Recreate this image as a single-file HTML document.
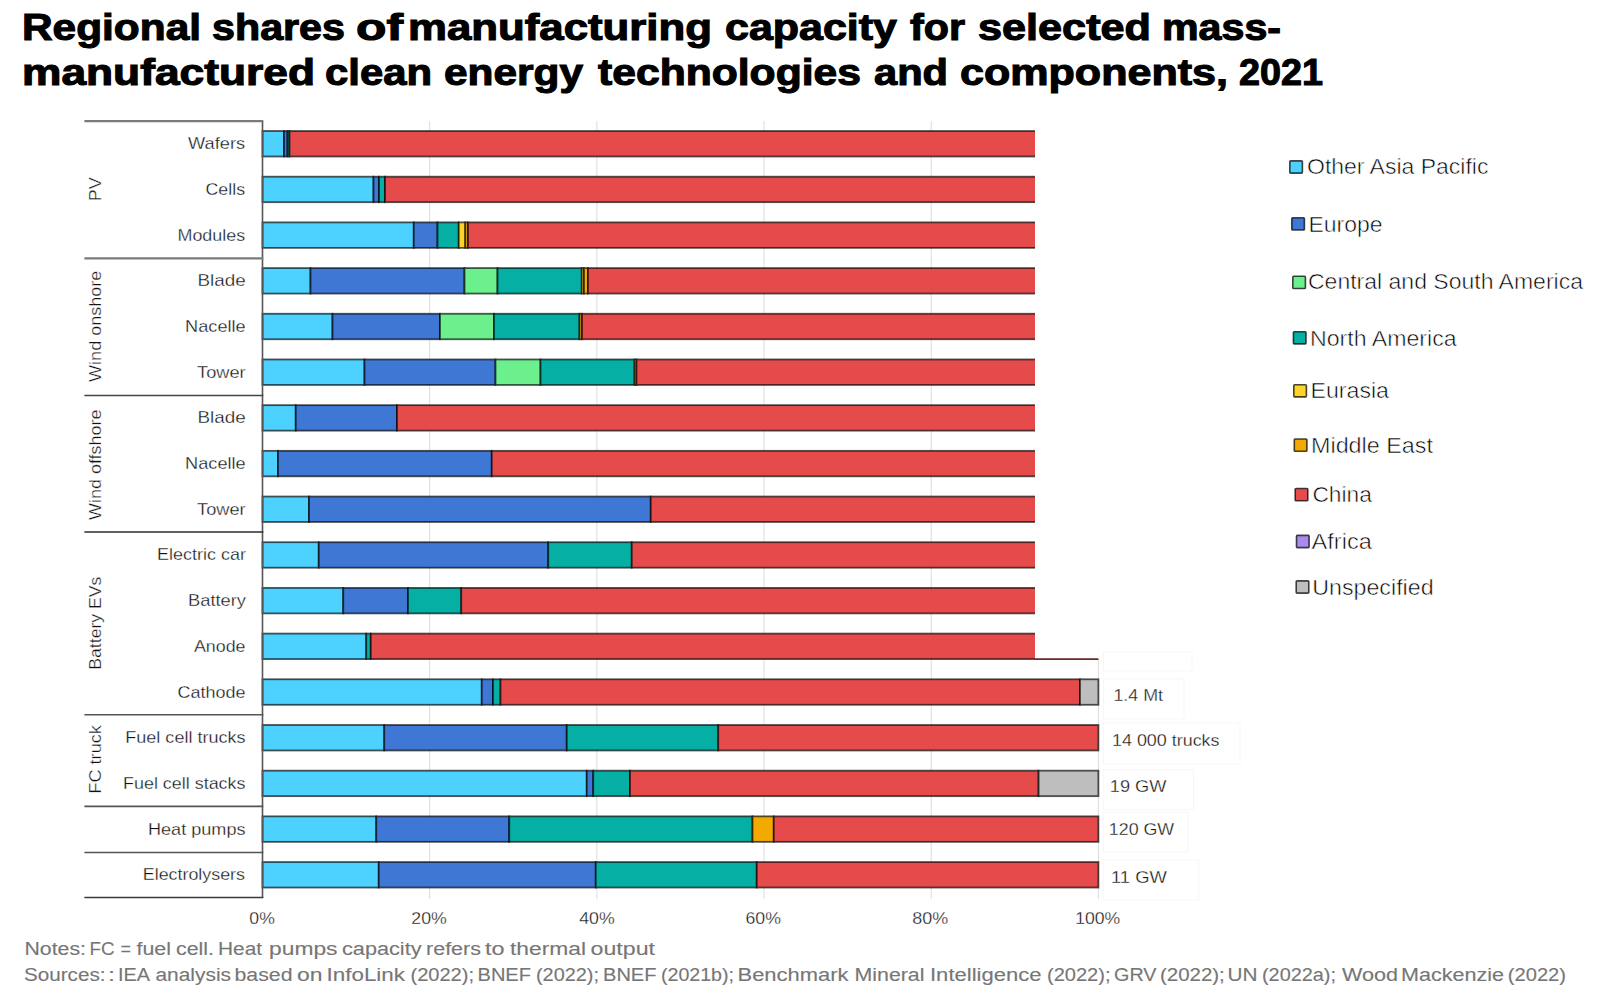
<!DOCTYPE html><html><head><meta charset="utf-8"><style>html,body{margin:0;padding:0;background:#fff;width:1600px;height:1000px;overflow:hidden}svg{display:block}text{font-family:"Liberation Sans",sans-serif}</style></head><body>
<svg width="1600" height="1000" viewBox="0 0 1600 1000">
<defs><clipPath id="cut"><rect x="0" y="0" width="1035.00" height="1000"/></clipPath></defs>
<text x="22.00" y="39.60" textLength="179.00" lengthAdjust="spacingAndGlyphs" font-size="37" font-weight="bold" fill="#000" stroke="#000" stroke-width="1.1">Regional</text>
<text x="212.00" y="39.60" textLength="133.00" lengthAdjust="spacingAndGlyphs" font-size="37" font-weight="bold" fill="#000" stroke="#000" stroke-width="1.1">shares</text>
<text x="356.00" y="39.60" textLength="47.00" lengthAdjust="spacingAndGlyphs" font-size="37" font-weight="bold" fill="#000" stroke="#000" stroke-width="1.1">of</text>
<text x="408.00" y="39.60" textLength="304.00" lengthAdjust="spacingAndGlyphs" font-size="37" font-weight="bold" fill="#000" stroke="#000" stroke-width="1.1">manufacturing</text>
<text x="725.00" y="39.60" textLength="172.00" lengthAdjust="spacingAndGlyphs" font-size="37" font-weight="bold" fill="#000" stroke="#000" stroke-width="1.1">capacity</text>
<text x="910.00" y="39.60" textLength="55.00" lengthAdjust="spacingAndGlyphs" font-size="37" font-weight="bold" fill="#000" stroke="#000" stroke-width="1.1">for</text>
<text x="978.00" y="39.60" textLength="173.00" lengthAdjust="spacingAndGlyphs" font-size="37" font-weight="bold" fill="#000" stroke="#000" stroke-width="1.1">selected</text>
<text x="1162.00" y="39.60" textLength="119.00" lengthAdjust="spacingAndGlyphs" font-size="37" font-weight="bold" fill="#000" stroke="#000" stroke-width="1.1">mass-</text>
<text x="22.00" y="84.90" textLength="293.00" lengthAdjust="spacingAndGlyphs" font-size="37" font-weight="bold" fill="#000" stroke="#000" stroke-width="1.1">manufactured</text>
<text x="325.00" y="84.90" textLength="107.00" lengthAdjust="spacingAndGlyphs" font-size="37" font-weight="bold" fill="#000" stroke="#000" stroke-width="1.1">clean</text>
<text x="444.00" y="84.90" textLength="139.00" lengthAdjust="spacingAndGlyphs" font-size="37" font-weight="bold" fill="#000" stroke="#000" stroke-width="1.1">energy</text>
<text x="598.00" y="84.90" textLength="263.00" lengthAdjust="spacingAndGlyphs" font-size="37" font-weight="bold" fill="#000" stroke="#000" stroke-width="1.1">technologies</text>
<text x="874.00" y="84.90" textLength="74.00" lengthAdjust="spacingAndGlyphs" font-size="37" font-weight="bold" fill="#000" stroke="#000" stroke-width="1.1">and</text>
<text x="960.00" y="84.90" textLength="268.00" lengthAdjust="spacingAndGlyphs" font-size="37" font-weight="bold" fill="#000" stroke="#000" stroke-width="1.1">components,</text>
<text x="1239.00" y="84.90" textLength="84.00" lengthAdjust="spacingAndGlyphs" font-size="37" font-weight="bold" fill="#000" stroke="#000" stroke-width="1.1">2021</text>
<line x1="429.68" y1="121" x2="429.68" y2="899" stroke="#dcdcdc" stroke-width="1"/>
<line x1="596.86" y1="121" x2="596.86" y2="899" stroke="#dcdcdc" stroke-width="1"/>
<line x1="764.04" y1="121" x2="764.04" y2="899" stroke="#dcdcdc" stroke-width="1"/>
<line x1="931.22" y1="121" x2="931.22" y2="899" stroke="#dcdcdc" stroke-width="1"/>
<line x1="1098.40" y1="659" x2="1098.40" y2="899" stroke="#dcdcdc" stroke-width="1"/>
<g clip-path="url(#cut)"><rect x="262.50" y="131.00" width="21.50" height="25.50" fill="#4DD2FF" stroke="rgba(0,0,0,0.66)" stroke-width="1.80"/><rect x="284.00" y="131.00" width="3.50" height="25.50" fill="#3E77D4" stroke="rgba(0,0,0,0.66)" stroke-width="1.80"/><rect x="287.50" y="131.00" width="2.00" height="25.50" fill="#05AFA3" stroke="rgba(0,0,0,0.66)" stroke-width="1.80"/><rect x="289.50" y="131.00" width="755.50" height="25.50" fill="#E54B4B" stroke="rgba(0,0,0,0.66)" stroke-width="1.80"/></g>
<text x="245.10" y="149.25" textLength="57.00" lengthAdjust="spacingAndGlyphs" text-anchor="end" font-size="17" fill="#111" stroke="#fff" stroke-width="0.3">Wafers</text>
<g clip-path="url(#cut)"><rect x="262.50" y="176.69" width="111.00" height="25.50" fill="#4DD2FF" stroke="rgba(0,0,0,0.66)" stroke-width="1.80"/><rect x="373.50" y="176.69" width="5.50" height="25.50" fill="#3E77D4" stroke="rgba(0,0,0,0.66)" stroke-width="1.80"/><rect x="379.00" y="176.69" width="6.00" height="25.50" fill="#05AFA3" stroke="rgba(0,0,0,0.66)" stroke-width="1.80"/><rect x="385.00" y="176.69" width="660.00" height="25.50" fill="#E54B4B" stroke="rgba(0,0,0,0.66)" stroke-width="1.80"/></g>
<text x="245.10" y="194.94" textLength="39.60" lengthAdjust="spacingAndGlyphs" text-anchor="end" font-size="17" fill="#111" stroke="#fff" stroke-width="0.3">Cells</text>
<g clip-path="url(#cut)"><rect x="262.50" y="222.38" width="151.25" height="25.50" fill="#4DD2FF" stroke="rgba(0,0,0,0.66)" stroke-width="1.80"/><rect x="413.75" y="222.38" width="23.75" height="25.50" fill="#3E77D4" stroke="rgba(0,0,0,0.66)" stroke-width="1.80"/><rect x="437.50" y="222.38" width="21.25" height="25.50" fill="#05AFA3" stroke="rgba(0,0,0,0.66)" stroke-width="1.80"/><rect x="458.75" y="222.38" width="6.55" height="25.50" fill="#FFD42A" stroke="rgba(0,0,0,0.66)" stroke-width="1.80"/><rect x="465.30" y="222.38" width="2.70" height="25.50" fill="#F2A900" stroke="rgba(0,0,0,0.66)" stroke-width="1.80"/><rect x="468.00" y="222.38" width="577.00" height="25.50" fill="#E54B4B" stroke="rgba(0,0,0,0.66)" stroke-width="1.80"/></g>
<text x="245.10" y="240.63" textLength="67.60" lengthAdjust="spacingAndGlyphs" text-anchor="end" font-size="17" fill="#111" stroke="#fff" stroke-width="0.3">Modules</text>
<g clip-path="url(#cut)"><rect x="262.50" y="268.07" width="48.00" height="25.50" fill="#4DD2FF" stroke="rgba(0,0,0,0.66)" stroke-width="1.80"/><rect x="310.50" y="268.07" width="154.00" height="25.50" fill="#3E77D4" stroke="rgba(0,0,0,0.66)" stroke-width="1.80"/><rect x="464.50" y="268.07" width="33.00" height="25.50" fill="#6CF08E" stroke="rgba(0,0,0,0.66)" stroke-width="1.80"/><rect x="497.50" y="268.07" width="84.25" height="25.50" fill="#05AFA3" stroke="rgba(0,0,0,0.66)" stroke-width="1.80"/><rect x="581.75" y="268.07" width="2.25" height="25.50" fill="#FFD42A" stroke="rgba(0,0,0,0.66)" stroke-width="1.80"/><rect x="584.00" y="268.07" width="4.00" height="25.50" fill="#F2A900" stroke="rgba(0,0,0,0.66)" stroke-width="1.80"/><rect x="588.00" y="268.07" width="457.00" height="25.50" fill="#E54B4B" stroke="rgba(0,0,0,0.66)" stroke-width="1.80"/></g>
<text x="245.70" y="286.32" textLength="48.20" lengthAdjust="spacingAndGlyphs" text-anchor="end" font-size="17" fill="#111" stroke="#fff" stroke-width="0.3">Blade</text>
<g clip-path="url(#cut)"><rect x="262.50" y="313.76" width="70.00" height="25.50" fill="#4DD2FF" stroke="rgba(0,0,0,0.66)" stroke-width="1.80"/><rect x="332.50" y="313.76" width="107.50" height="25.50" fill="#3E77D4" stroke="rgba(0,0,0,0.66)" stroke-width="1.80"/><rect x="440.00" y="313.76" width="54.00" height="25.50" fill="#6CF08E" stroke="rgba(0,0,0,0.66)" stroke-width="1.80"/><rect x="494.00" y="313.76" width="85.50" height="25.50" fill="#05AFA3" stroke="rgba(0,0,0,0.66)" stroke-width="1.80"/><rect x="579.50" y="313.76" width="2.50" height="25.50" fill="#F2A900" stroke="rgba(0,0,0,0.66)" stroke-width="1.80"/><rect x="582.00" y="313.76" width="463.00" height="25.50" fill="#E54B4B" stroke="rgba(0,0,0,0.66)" stroke-width="1.80"/></g>
<text x="245.70" y="332.01" textLength="60.60" lengthAdjust="spacingAndGlyphs" text-anchor="end" font-size="17" fill="#111" stroke="#fff" stroke-width="0.3">Nacelle</text>
<g clip-path="url(#cut)"><rect x="262.50" y="359.45" width="102.00" height="25.50" fill="#4DD2FF" stroke="rgba(0,0,0,0.66)" stroke-width="1.80"/><rect x="364.50" y="359.45" width="131.00" height="25.50" fill="#3E77D4" stroke="rgba(0,0,0,0.66)" stroke-width="1.80"/><rect x="495.50" y="359.45" width="45.00" height="25.50" fill="#6CF08E" stroke="rgba(0,0,0,0.66)" stroke-width="1.80"/><rect x="540.50" y="359.45" width="94.00" height="25.50" fill="#05AFA3" stroke="rgba(0,0,0,0.66)" stroke-width="1.80"/><rect x="634.50" y="359.45" width="2.00" height="25.50" fill="#F2A900" stroke="rgba(0,0,0,0.66)" stroke-width="1.80"/><rect x="636.50" y="359.45" width="408.50" height="25.50" fill="#E54B4B" stroke="rgba(0,0,0,0.66)" stroke-width="1.80"/></g>
<text x="245.70" y="377.70" textLength="48.60" lengthAdjust="spacingAndGlyphs" text-anchor="end" font-size="17" fill="#111" stroke="#fff" stroke-width="0.3">Tower</text>
<g clip-path="url(#cut)"><rect x="262.50" y="405.14" width="33.25" height="25.50" fill="#4DD2FF" stroke="rgba(0,0,0,0.66)" stroke-width="1.80"/><rect x="295.75" y="405.14" width="101.25" height="25.50" fill="#3E77D4" stroke="rgba(0,0,0,0.66)" stroke-width="1.80"/><rect x="397.00" y="405.14" width="648.00" height="25.50" fill="#E54B4B" stroke="rgba(0,0,0,0.66)" stroke-width="1.80"/></g>
<text x="245.70" y="423.39" textLength="48.20" lengthAdjust="spacingAndGlyphs" text-anchor="end" font-size="17" fill="#111" stroke="#fff" stroke-width="0.3">Blade</text>
<g clip-path="url(#cut)"><rect x="262.50" y="450.83" width="15.50" height="25.50" fill="#4DD2FF" stroke="rgba(0,0,0,0.66)" stroke-width="1.80"/><rect x="278.00" y="450.83" width="213.75" height="25.50" fill="#3E77D4" stroke="rgba(0,0,0,0.66)" stroke-width="1.80"/><rect x="491.75" y="450.83" width="553.25" height="25.50" fill="#E54B4B" stroke="rgba(0,0,0,0.66)" stroke-width="1.80"/></g>
<text x="245.70" y="469.08" textLength="60.60" lengthAdjust="spacingAndGlyphs" text-anchor="end" font-size="17" fill="#111" stroke="#fff" stroke-width="0.3">Nacelle</text>
<g clip-path="url(#cut)"><rect x="262.50" y="496.52" width="46.50" height="25.50" fill="#4DD2FF" stroke="rgba(0,0,0,0.66)" stroke-width="1.80"/><rect x="309.00" y="496.52" width="341.75" height="25.50" fill="#3E77D4" stroke="rgba(0,0,0,0.66)" stroke-width="1.80"/><rect x="650.75" y="496.52" width="394.25" height="25.50" fill="#E54B4B" stroke="rgba(0,0,0,0.66)" stroke-width="1.80"/></g>
<text x="245.70" y="514.77" textLength="48.60" lengthAdjust="spacingAndGlyphs" text-anchor="end" font-size="17" fill="#111" stroke="#fff" stroke-width="0.3">Tower</text>
<g clip-path="url(#cut)"><rect x="262.50" y="542.21" width="56.25" height="25.50" fill="#4DD2FF" stroke="rgba(0,0,0,0.66)" stroke-width="1.80"/><rect x="318.75" y="542.21" width="229.50" height="25.50" fill="#3E77D4" stroke="rgba(0,0,0,0.66)" stroke-width="1.80"/><rect x="548.25" y="542.21" width="83.50" height="25.50" fill="#05AFA3" stroke="rgba(0,0,0,0.66)" stroke-width="1.80"/><rect x="631.75" y="542.21" width="413.25" height="25.50" fill="#E54B4B" stroke="rgba(0,0,0,0.66)" stroke-width="1.80"/></g>
<text x="245.90" y="560.46" textLength="88.90" lengthAdjust="spacingAndGlyphs" text-anchor="end" font-size="17" fill="#111" stroke="#fff" stroke-width="0.3">Electric car</text>
<g clip-path="url(#cut)"><rect x="262.50" y="587.90" width="80.75" height="25.50" fill="#4DD2FF" stroke="rgba(0,0,0,0.66)" stroke-width="1.80"/><rect x="343.25" y="587.90" width="64.75" height="25.50" fill="#3E77D4" stroke="rgba(0,0,0,0.66)" stroke-width="1.80"/><rect x="408.00" y="587.90" width="53.25" height="25.50" fill="#05AFA3" stroke="rgba(0,0,0,0.66)" stroke-width="1.80"/><rect x="461.25" y="587.90" width="583.75" height="25.50" fill="#E54B4B" stroke="rgba(0,0,0,0.66)" stroke-width="1.80"/></g>
<text x="246.00" y="606.15" textLength="58.00" lengthAdjust="spacingAndGlyphs" text-anchor="end" font-size="17" fill="#111" stroke="#fff" stroke-width="0.3">Battery</text>
<g clip-path="url(#cut)"><rect x="262.50" y="633.59" width="103.75" height="25.50" fill="#4DD2FF" stroke="rgba(0,0,0,0.66)" stroke-width="1.80"/><rect x="366.25" y="633.59" width="4.50" height="25.50" fill="#05AFA3" stroke="rgba(0,0,0,0.66)" stroke-width="1.80"/><rect x="370.75" y="633.59" width="674.25" height="25.50" fill="#E54B4B" stroke="rgba(0,0,0,0.66)" stroke-width="1.80"/></g>
<text x="245.50" y="651.84" textLength="51.60" lengthAdjust="spacingAndGlyphs" text-anchor="end" font-size="17" fill="#111" stroke="#fff" stroke-width="0.3">Anode</text>
<rect x="262.50" y="679.28" width="219.25" height="25.50" fill="#4DD2FF" stroke="rgba(0,0,0,0.66)" stroke-width="1.80"/><rect x="481.75" y="679.28" width="11.25" height="25.50" fill="#3E77D4" stroke="rgba(0,0,0,0.66)" stroke-width="1.80"/><rect x="493.00" y="679.28" width="7.50" height="25.50" fill="#05AFA3" stroke="rgba(0,0,0,0.66)" stroke-width="1.80"/><rect x="500.50" y="679.28" width="579.50" height="25.50" fill="#E54B4B" stroke="rgba(0,0,0,0.66)" stroke-width="1.80"/><rect x="1080.00" y="679.28" width="18.40" height="25.50" fill="#BEBEBE" stroke="rgba(0,0,0,0.66)" stroke-width="1.80"/>
<text x="245.50" y="697.53" textLength="68.00" lengthAdjust="spacingAndGlyphs" text-anchor="end" font-size="17" fill="#111" stroke="#fff" stroke-width="0.3">Cathode</text>
<rect x="262.50" y="724.97" width="121.75" height="25.50" fill="#4DD2FF" stroke="rgba(0,0,0,0.66)" stroke-width="1.80"/><rect x="384.25" y="724.97" width="182.50" height="25.50" fill="#3E77D4" stroke="rgba(0,0,0,0.66)" stroke-width="1.80"/><rect x="566.75" y="724.97" width="151.50" height="25.50" fill="#05AFA3" stroke="rgba(0,0,0,0.66)" stroke-width="1.80"/><rect x="718.25" y="724.97" width="380.15" height="25.50" fill="#E54B4B" stroke="rgba(0,0,0,0.66)" stroke-width="1.80"/>
<text x="245.50" y="743.22" textLength="120.20" lengthAdjust="spacingAndGlyphs" text-anchor="end" font-size="17" fill="#111" stroke="#fff" stroke-width="0.3">Fuel cell trucks</text>
<rect x="262.50" y="770.66" width="324.25" height="25.50" fill="#4DD2FF" stroke="rgba(0,0,0,0.66)" stroke-width="1.80"/><rect x="586.75" y="770.66" width="6.50" height="25.50" fill="#3E77D4" stroke="rgba(0,0,0,0.66)" stroke-width="1.80"/><rect x="593.25" y="770.66" width="36.75" height="25.50" fill="#05AFA3" stroke="rgba(0,0,0,0.66)" stroke-width="1.80"/><rect x="630.00" y="770.66" width="408.60" height="25.50" fill="#E54B4B" stroke="rgba(0,0,0,0.66)" stroke-width="1.80"/><rect x="1038.60" y="770.66" width="59.80" height="25.50" fill="#BEBEBE" stroke="rgba(0,0,0,0.66)" stroke-width="1.80"/>
<text x="245.50" y="788.91" textLength="122.50" lengthAdjust="spacingAndGlyphs" text-anchor="end" font-size="17" fill="#111" stroke="#fff" stroke-width="0.3">Fuel cell stacks</text>
<rect x="262.50" y="816.35" width="113.75" height="25.50" fill="#4DD2FF" stroke="rgba(0,0,0,0.66)" stroke-width="1.80"/><rect x="376.25" y="816.35" width="133.00" height="25.50" fill="#3E77D4" stroke="rgba(0,0,0,0.66)" stroke-width="1.80"/><rect x="509.25" y="816.35" width="243.25" height="25.50" fill="#05AFA3" stroke="rgba(0,0,0,0.66)" stroke-width="1.80"/><rect x="752.50" y="816.35" width="21.25" height="25.50" fill="#F2A900" stroke="rgba(0,0,0,0.66)" stroke-width="1.80"/><rect x="773.75" y="816.35" width="324.65" height="25.50" fill="#E54B4B" stroke="rgba(0,0,0,0.66)" stroke-width="1.80"/>
<text x="245.50" y="834.60" textLength="97.50" lengthAdjust="spacingAndGlyphs" text-anchor="end" font-size="17" fill="#111" stroke="#fff" stroke-width="0.3">Heat pumps</text>
<rect x="262.50" y="862.04" width="116.25" height="25.50" fill="#4DD2FF" stroke="rgba(0,0,0,0.66)" stroke-width="1.80"/><rect x="378.75" y="862.04" width="217.00" height="25.50" fill="#3E77D4" stroke="rgba(0,0,0,0.66)" stroke-width="1.80"/><rect x="595.75" y="862.04" width="161.00" height="25.50" fill="#05AFA3" stroke="rgba(0,0,0,0.66)" stroke-width="1.80"/><rect x="756.75" y="862.04" width="341.65" height="25.50" fill="#E54B4B" stroke="rgba(0,0,0,0.66)" stroke-width="1.80"/>
<text x="245.00" y="880.29" textLength="102.20" lengthAdjust="spacingAndGlyphs" text-anchor="end" font-size="17" fill="#111" stroke="#fff" stroke-width="0.3">Electrolysers</text>
<line x1="1035.00" y1="659.09" x2="1098.40" y2="659.09" stroke="#6e2626" stroke-width="1.8"/>
<line x1="262.50" y1="121" x2="262.50" y2="898" stroke="#555" stroke-width="1.6"/>
<line x1="84.4" y1="121.20" x2="263.30" y2="121.20" stroke="#7a7a7a" stroke-width="2.20"/>
<line x1="84.4" y1="258.40" x2="263.30" y2="258.40" stroke="#7a7a7a" stroke-width="2.20"/>
<line x1="84.4" y1="395.50" x2="263.30" y2="395.50" stroke="#444" stroke-width="1.50"/>
<line x1="84.4" y1="532.00" x2="263.30" y2="532.00" stroke="#2b2b2b" stroke-width="1.40"/>
<line x1="84.4" y1="714.70" x2="263.30" y2="714.70" stroke="#555" stroke-width="1.60"/>
<line x1="84.4" y1="806.40" x2="263.30" y2="806.40" stroke="#555" stroke-width="1.60"/>
<line x1="84.4" y1="852.50" x2="263.30" y2="852.50" stroke="#555" stroke-width="1.60"/>
<line x1="84.4" y1="897.60" x2="263.30" y2="897.60" stroke="#3a3a3a" stroke-width="1.50"/>
<text transform="translate(101.3,189.20) rotate(-90)" x="0" y="0" font-size="17" fill="#111" stroke="#fff" stroke-width="0.3" text-anchor="middle" textLength="24.00" lengthAdjust="spacingAndGlyphs">PV</text>
<text transform="translate(101.3,326.30) rotate(-90)" x="0" y="0" font-size="17" fill="#111" stroke="#fff" stroke-width="0.3" text-anchor="middle" textLength="111.20" lengthAdjust="spacingAndGlyphs">Wind onshore</text>
<text transform="translate(101.3,464.75) rotate(-90)" x="0" y="0" font-size="17" fill="#111" stroke="#fff" stroke-width="0.3" text-anchor="middle" textLength="110.30" lengthAdjust="spacingAndGlyphs">Wind offshore</text>
<text transform="translate(101.3,623.20) rotate(-90)" x="0" y="0" font-size="17" fill="#111" stroke="#fff" stroke-width="0.3" text-anchor="middle" textLength="93.00" lengthAdjust="spacingAndGlyphs">Battery EVs</text>
<text transform="translate(101.3,759.40) rotate(-90)" x="0" y="0" font-size="17" fill="#111" stroke="#fff" stroke-width="0.3" text-anchor="middle" textLength="68.50" lengthAdjust="spacingAndGlyphs">FC truck</text>
<text x="262.12" y="924.30" textLength="25.50" lengthAdjust="spacingAndGlyphs" text-anchor="middle" font-size="17" fill="#111" stroke="#fff" stroke-width="0.3">0%</text>
<text x="429.06" y="924.30" textLength="35.50" lengthAdjust="spacingAndGlyphs" text-anchor="middle" font-size="17" fill="#111" stroke="#fff" stroke-width="0.3">20%</text>
<text x="596.99" y="924.30" textLength="35.50" lengthAdjust="spacingAndGlyphs" text-anchor="middle" font-size="17" fill="#111" stroke="#fff" stroke-width="0.3">40%</text>
<text x="763.17" y="924.30" textLength="35.50" lengthAdjust="spacingAndGlyphs" text-anchor="middle" font-size="17" fill="#111" stroke="#fff" stroke-width="0.3">60%</text>
<text x="930.22" y="924.30" textLength="36.00" lengthAdjust="spacingAndGlyphs" text-anchor="middle" font-size="17" fill="#111" stroke="#fff" stroke-width="0.3">80%</text>
<text x="1097.65" y="924.30" textLength="45.00" lengthAdjust="spacingAndGlyphs" text-anchor="middle" font-size="17" fill="#111" stroke="#fff" stroke-width="0.3">100%</text>
<rect x="1103.50" y="652.00" width="88.50" height="19.00" fill="none" stroke="#f7f7f7" stroke-width="1"/>
<rect x="1103.50" y="679.00" width="80.50" height="40.00" fill="none" stroke="#f7f7f7" stroke-width="1"/>
<rect x="1103.50" y="723.00" width="136.50" height="41.00" fill="none" stroke="#f7f7f7" stroke-width="1"/>
<rect x="1103.30" y="769.80" width="90.30" height="39.90" fill="none" stroke="#f7f7f7" stroke-width="1"/>
<rect x="1103.30" y="812.50" width="84.70" height="39.50" fill="none" stroke="#f7f7f7" stroke-width="1"/>
<rect x="1103.30" y="860.00" width="95.70" height="40.00" fill="none" stroke="#f7f7f7" stroke-width="1"/>
<text x="1113.40" y="701.25" textLength="49.60" lengthAdjust="spacingAndGlyphs" font-size="17" fill="#111" stroke="#fff" stroke-width="0.3">1.4 Mt</text>
<text x="1112.00" y="745.80" textLength="107.50" lengthAdjust="spacingAndGlyphs" font-size="17" fill="#111" stroke="#fff" stroke-width="0.3">14 000 trucks</text>
<text x="1109.80" y="792.20" textLength="56.60" lengthAdjust="spacingAndGlyphs" font-size="17" fill="#111" stroke="#fff" stroke-width="0.3">19 GW</text>
<text x="1108.80" y="834.90" textLength="65.40" lengthAdjust="spacingAndGlyphs" font-size="17" fill="#111" stroke="#fff" stroke-width="0.3">120 GW</text>
<text x="1111.00" y="882.50" textLength="55.80" lengthAdjust="spacingAndGlyphs" font-size="17" fill="#111" stroke="#fff" stroke-width="0.3">11 GW</text>
<rect x="1289.80" y="160.90" width="12.6" height="12.2" rx="0.8" fill="#4DD2FF" stroke="rgba(0,0,0,0.72)" stroke-width="1.6"/>
<text x="1307.00" y="174.40" textLength="181.40" lengthAdjust="spacingAndGlyphs" font-size="22" fill="#000" stroke="#fff" stroke-width="0.55">Other Asia Pacific</text>
<rect x="1291.80" y="217.80" width="12.6" height="12.2" rx="0.8" fill="#3E77D4" stroke="rgba(0,0,0,0.72)" stroke-width="1.6"/>
<text x="1308.40" y="231.90" textLength="74.10" lengthAdjust="spacingAndGlyphs" font-size="22" fill="#000" stroke="#fff" stroke-width="0.55">Europe</text>
<rect x="1292.80" y="276.30" width="12.6" height="12.2" rx="0.8" fill="#6CF08E" stroke="rgba(0,0,0,0.72)" stroke-width="1.6"/>
<text x="1308.00" y="289.40" textLength="275.00" lengthAdjust="spacingAndGlyphs" font-size="22" fill="#000" stroke="#fff" stroke-width="0.55">Central and South America</text>
<rect x="1293.40" y="331.70" width="12.6" height="12.2" rx="0.8" fill="#05AFA3" stroke="rgba(0,0,0,0.72)" stroke-width="1.6"/>
<text x="1310.00" y="345.60" textLength="146.60" lengthAdjust="spacingAndGlyphs" font-size="22" fill="#000" stroke="#fff" stroke-width="0.55">North America</text>
<rect x="1293.80" y="384.70" width="12.6" height="12.2" rx="0.8" fill="#FFD42A" stroke="rgba(0,0,0,0.72)" stroke-width="1.6"/>
<text x="1310.50" y="398.10" textLength="78.50" lengthAdjust="spacingAndGlyphs" font-size="22" fill="#000" stroke="#fff" stroke-width="0.55">Eurasia</text>
<rect x="1294.30" y="439.05" width="12.6" height="12.2" rx="0.8" fill="#F2A900" stroke="rgba(0,0,0,0.72)" stroke-width="1.6"/>
<text x="1311.00" y="452.50" textLength="122.00" lengthAdjust="spacingAndGlyphs" font-size="22" fill="#000" stroke="#fff" stroke-width="0.55">Middle East</text>
<rect x="1295.20" y="488.50" width="12.6" height="12.2" rx="0.8" fill="#E54B4B" stroke="rgba(0,0,0,0.72)" stroke-width="1.6"/>
<text x="1312.40" y="501.90" textLength="59.40" lengthAdjust="spacingAndGlyphs" font-size="22" fill="#000" stroke="#fff" stroke-width="0.55">China</text>
<rect x="1296.50" y="535.40" width="12.6" height="12.2" rx="0.8" fill="#A98BF0" stroke="rgba(0,0,0,0.72)" stroke-width="1.6"/>
<text x="1311.60" y="549.10" textLength="60.20" lengthAdjust="spacingAndGlyphs" font-size="22" fill="#000" stroke="#fff" stroke-width="0.55">Africa</text>
<rect x="1296.20" y="580.90" width="12.6" height="12.2" rx="0.8" fill="#BEBEBE" stroke="rgba(0,0,0,0.72)" stroke-width="1.6"/>
<text x="1312.20" y="594.60" textLength="121.40" lengthAdjust="spacingAndGlyphs" font-size="22" fill="#000" stroke="#fff" stroke-width="0.55">Unspecified</text>
<text x="24.50" y="954.50" textLength="61.50" lengthAdjust="spacingAndGlyphs" font-size="17.5" fill="#767676" stroke="#767676" stroke-width="0.12">Notes:</text>
<text x="89.50" y="954.50" textLength="25.00" lengthAdjust="spacingAndGlyphs" font-size="17.5" fill="#767676" stroke="#767676" stroke-width="0.12">FC</text>
<text x="120.50" y="954.50" textLength="10.50" lengthAdjust="spacingAndGlyphs" font-size="17.5" fill="#767676" stroke="#767676" stroke-width="0.12">=</text>
<text x="136.50" y="954.50" textLength="34.50" lengthAdjust="spacingAndGlyphs" font-size="17.5" fill="#767676" stroke="#767676" stroke-width="0.12">fuel</text>
<text x="176.00" y="954.50" textLength="38.00" lengthAdjust="spacingAndGlyphs" font-size="17.5" fill="#767676" stroke="#767676" stroke-width="0.12">cell.</text>
<text x="218.00" y="954.50" textLength="44.00" lengthAdjust="spacingAndGlyphs" font-size="17.5" fill="#767676" stroke="#767676" stroke-width="0.12">Heat</text>
<text x="269.00" y="954.50" textLength="68.50" lengthAdjust="spacingAndGlyphs" font-size="17.5" fill="#767676" stroke="#767676" stroke-width="0.12">pumps</text>
<text x="342.00" y="954.50" textLength="79.50" lengthAdjust="spacingAndGlyphs" font-size="17.5" fill="#767676" stroke="#767676" stroke-width="0.12">capacity</text>
<text x="426.00" y="954.50" textLength="55.00" lengthAdjust="spacingAndGlyphs" font-size="17.5" fill="#767676" stroke="#767676" stroke-width="0.12">refers</text>
<text x="485.00" y="954.50" textLength="19.50" lengthAdjust="spacingAndGlyphs" font-size="17.5" fill="#767676" stroke="#767676" stroke-width="0.12">to</text>
<text x="510.00" y="954.50" textLength="76.00" lengthAdjust="spacingAndGlyphs" font-size="17.5" fill="#767676" stroke="#767676" stroke-width="0.12">thermal</text>
<text x="590.50" y="954.50" textLength="64.50" lengthAdjust="spacingAndGlyphs" font-size="17.5" fill="#767676" stroke="#767676" stroke-width="0.12">output</text>
<text x="24.00" y="981.30" textLength="81.50" lengthAdjust="spacingAndGlyphs" font-size="17.5" fill="#767676" stroke="#767676" stroke-width="0.12">Sources:</text>
<text x="108.00" y="981.30" textLength="7.00" lengthAdjust="spacingAndGlyphs" font-size="17.5" fill="#767676" stroke="#767676" stroke-width="0.12">:</text>
<text x="118.00" y="981.30" textLength="32.00" lengthAdjust="spacingAndGlyphs" font-size="17.5" fill="#767676" stroke="#767676" stroke-width="0.12">IEA</text>
<text x="155.50" y="981.30" textLength="75.50" lengthAdjust="spacingAndGlyphs" font-size="17.5" fill="#767676" stroke="#767676" stroke-width="0.12">analysis</text>
<text x="234.50" y="981.30" textLength="58.00" lengthAdjust="spacingAndGlyphs" font-size="17.5" fill="#767676" stroke="#767676" stroke-width="0.12">based</text>
<text x="297.00" y="981.30" textLength="25.50" lengthAdjust="spacingAndGlyphs" font-size="17.5" fill="#767676" stroke="#767676" stroke-width="0.12">on</text>
<text x="326.50" y="981.30" textLength="78.50" lengthAdjust="spacingAndGlyphs" font-size="17.5" fill="#767676" stroke="#767676" stroke-width="0.12">InfoLink</text>
<text x="410.50" y="981.30" textLength="63.50" lengthAdjust="spacingAndGlyphs" font-size="17.5" fill="#767676" stroke="#767676" stroke-width="0.12">(2022);</text>
<text x="477.50" y="981.30" textLength="53.50" lengthAdjust="spacingAndGlyphs" font-size="17.5" fill="#767676" stroke="#767676" stroke-width="0.12">BNEF</text>
<text x="536.00" y="981.30" textLength="63.00" lengthAdjust="spacingAndGlyphs" font-size="17.5" fill="#767676" stroke="#767676" stroke-width="0.12">(2022);</text>
<text x="603.00" y="981.30" textLength="53.50" lengthAdjust="spacingAndGlyphs" font-size="17.5" fill="#767676" stroke="#767676" stroke-width="0.12">BNEF</text>
<text x="661.00" y="981.30" textLength="73.00" lengthAdjust="spacingAndGlyphs" font-size="17.5" fill="#767676" stroke="#767676" stroke-width="0.12">(2021b);</text>
<text x="737.50" y="981.30" textLength="111.00" lengthAdjust="spacingAndGlyphs" font-size="17.5" fill="#767676" stroke="#767676" stroke-width="0.12">Benchmark</text>
<text x="854.50" y="981.30" textLength="70.00" lengthAdjust="spacingAndGlyphs" font-size="17.5" fill="#767676" stroke="#767676" stroke-width="0.12">Mineral</text>
<text x="930.00" y="981.30" textLength="111.50" lengthAdjust="spacingAndGlyphs" font-size="17.5" fill="#767676" stroke="#767676" stroke-width="0.12">Intelligence</text>
<text x="1047.00" y="981.30" textLength="63.50" lengthAdjust="spacingAndGlyphs" font-size="17.5" fill="#767676" stroke="#767676" stroke-width="0.12">(2022);</text>
<text x="1114.00" y="981.30" textLength="42.50" lengthAdjust="spacingAndGlyphs" font-size="17.5" fill="#767676" stroke="#767676" stroke-width="0.12">GRV</text>
<text x="1160.00" y="981.30" textLength="64.80" lengthAdjust="spacingAndGlyphs" font-size="17.5" fill="#767676" stroke="#767676" stroke-width="0.12">(2022);</text>
<text x="1227.50" y="981.30" textLength="30.00" lengthAdjust="spacingAndGlyphs" font-size="17.5" fill="#767676" stroke="#767676" stroke-width="0.12">UN</text>
<text x="1262.00" y="981.30" textLength="74.00" lengthAdjust="spacingAndGlyphs" font-size="17.5" fill="#767676" stroke="#767676" stroke-width="0.12">(2022a);</text>
<text x="1342.00" y="981.30" textLength="56.00" lengthAdjust="spacingAndGlyphs" font-size="17.5" fill="#767676" stroke="#767676" stroke-width="0.12">Wood</text>
<text x="1401.00" y="981.30" textLength="103.00" lengthAdjust="spacingAndGlyphs" font-size="17.5" fill="#767676" stroke="#767676" stroke-width="0.12">Mackenzie</text>
<text x="1507.80" y="981.30" textLength="58.20" lengthAdjust="spacingAndGlyphs" font-size="17.5" fill="#767676" stroke="#767676" stroke-width="0.12">(2022)</text>
</svg></body></html>
